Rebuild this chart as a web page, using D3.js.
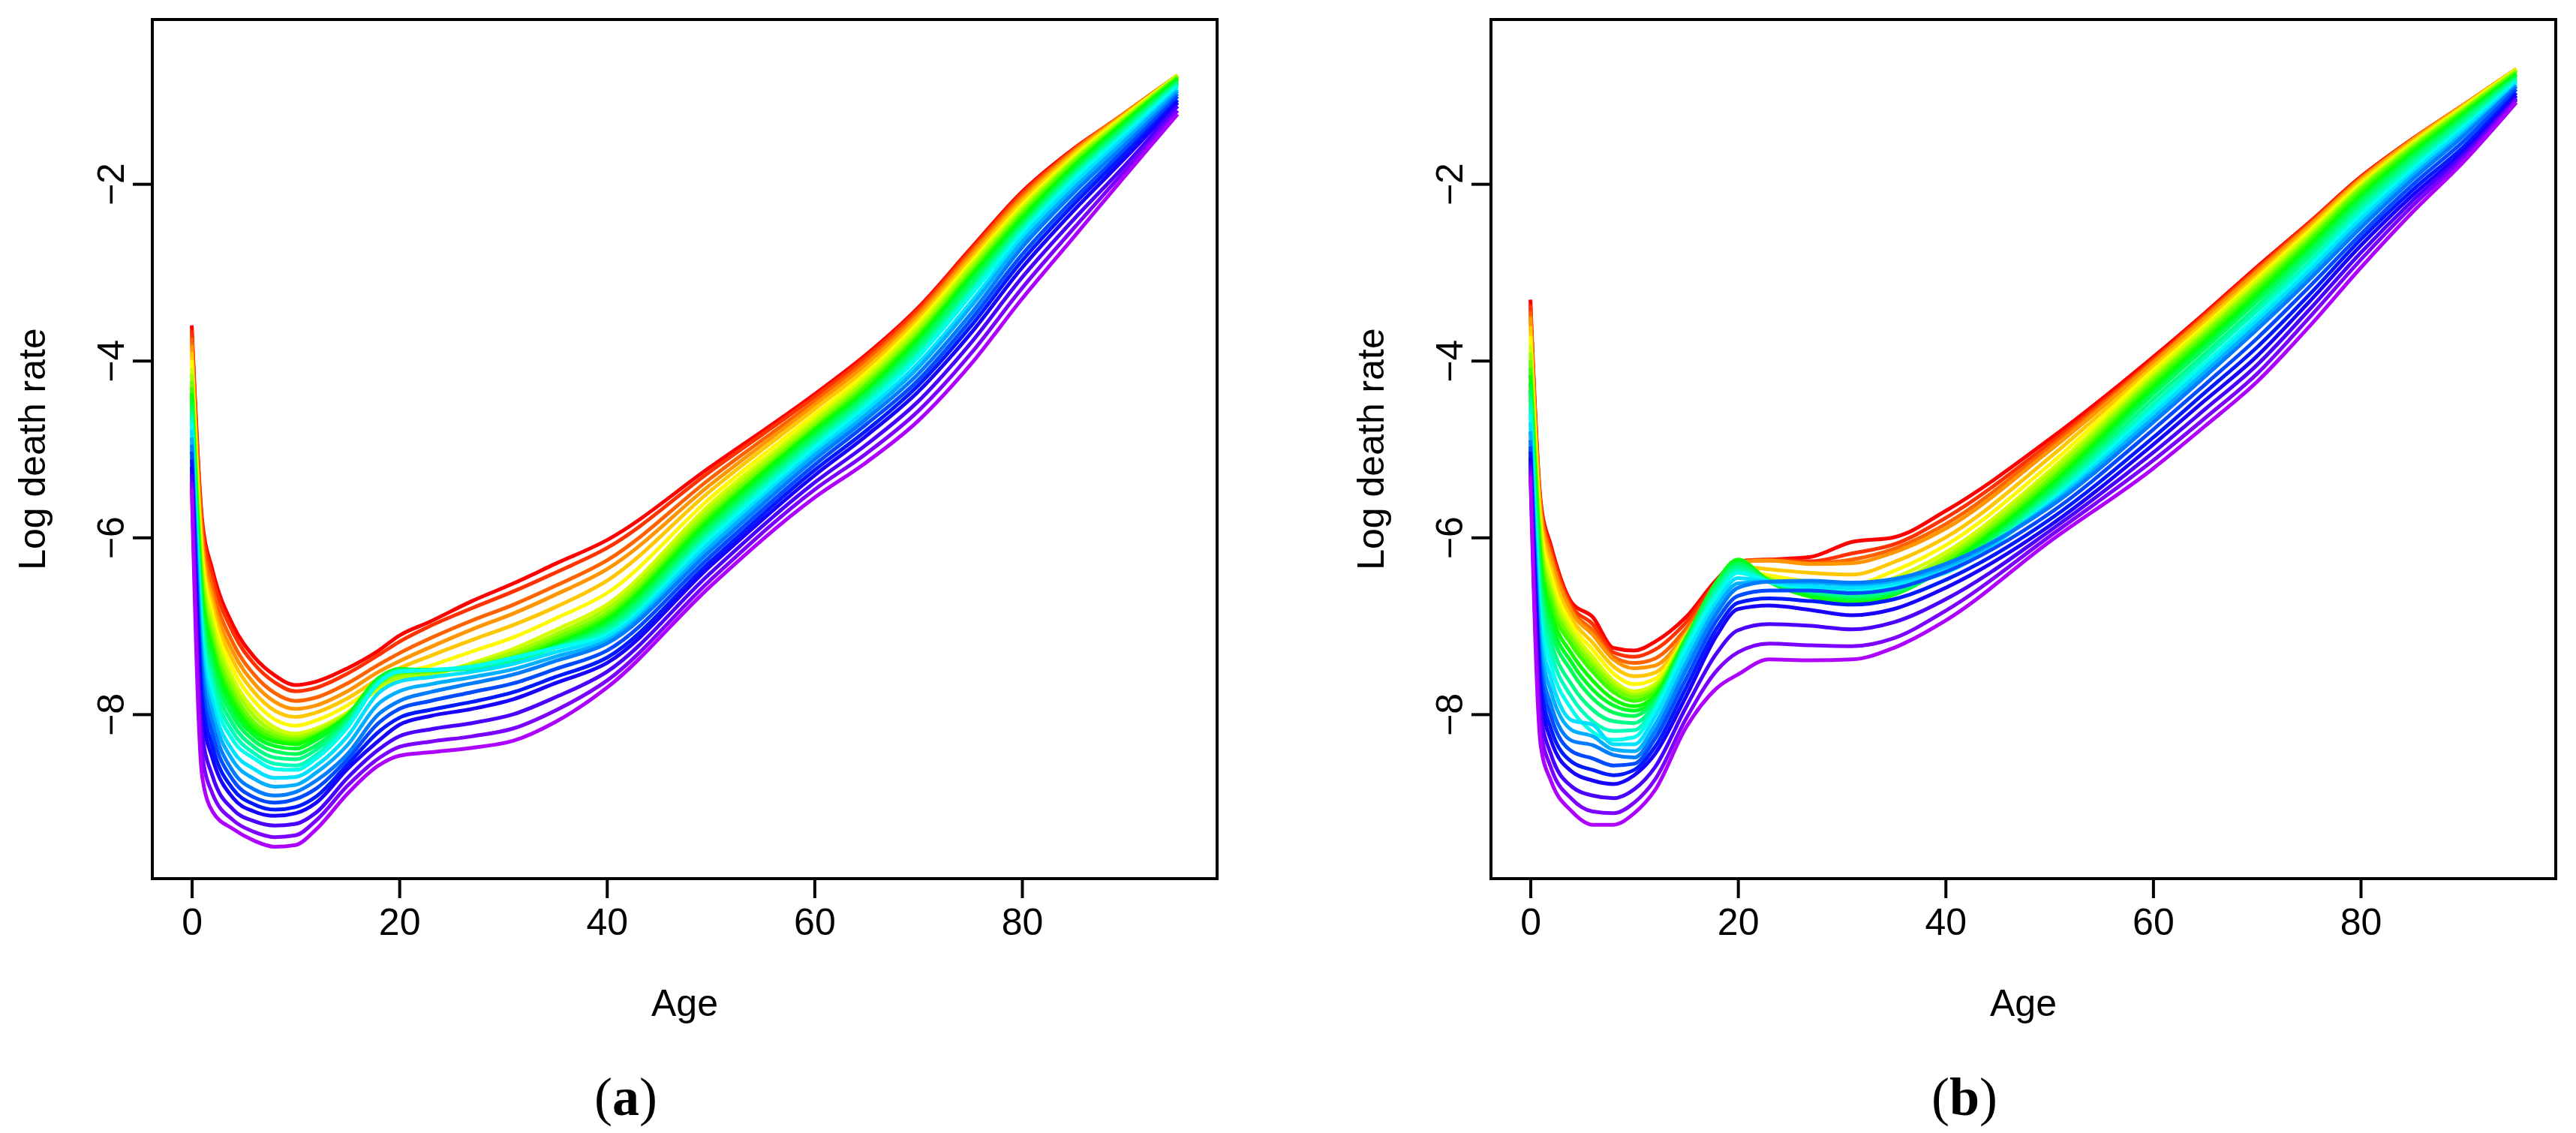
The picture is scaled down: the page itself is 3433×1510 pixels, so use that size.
<!DOCTYPE html>
<html>
<head>
<meta charset="utf-8">
<script src="https://cdn.jsdelivr.net/npm/d3@7"></script>
<style>
body { margin: 0; background: #fff; }
text { font-family: "Liberation Sans", Arial, sans-serif; }
</style>
</head>
<body>
<script>
var ages = [0, 1, 2, 4, 6, 8, 10, 12, 15, 18, 20, 23, 27, 31, 35, 40, 50, 60, 65, 70, 75, 80, 85, 90, 95];
var xTicks = [0, 20, 40, 60, 80];
var yTicks = [-8, -6, -4, -2];
var yRange = [-9.5, -0.5];
var captions = ["a", "b"];

// panel (a): one row per year, oldest (red) first
var panelA = [
  [-3.60,-5.80,-6.37,-7.00,-7.35,-7.56,-7.67,-7.63,-7.48,-7.28,-7.11,-6.95,-6.72,-6.52,-6.30,-6.03,-5.20,-4.38,-3.93,-3.40,-2.74,-2.09,-1.60,-1.20,-0.78],
  [-3.66,-5.86,-6.45,-7.08,-7.43,-7.64,-7.74,-7.70,-7.54,-7.33,-7.18,-7.00,-6.80,-6.61,-6.40,-6.12,-5.25,-4.41,-3.96,-3.42,-2.76,-2.11,-1.61,-1.19,-0.77],
  [-3.74,-5.96,-6.57,-7.20,-7.55,-7.76,-7.85,-7.81,-7.65,-7.44,-7.31,-7.14,-6.94,-6.76,-6.55,-6.26,-5.33,-4.46,-4.00,-3.46,-2.79,-2.14,-1.62,-1.19,-0.77],
  [-3.82,-6.05,-6.68,-7.30,-7.65,-7.86,-7.94,-7.90,-7.74,-7.52,-7.40,-7.24,-7.04,-6.86,-6.65,-6.36,-5.40,-4.50,-4.04,-3.49,-2.82,-2.17,-1.64,-1.20,-0.77],
  [-3.90,-6.14,-6.77,-7.40,-7.75,-7.96,-8.03,-7.98,-7.82,-7.60,-7.48,-7.34,-7.16,-6.99,-6.79,-6.49,-5.47,-4.55,-4.09,-3.53,-2.86,-2.20,-1.66,-1.21,-0.77],
  [-3.99,-6.23,-6.86,-7.50,-7.85,-8.06,-8.13,-8.07,-7.90,-7.66,-7.55,-7.45,-7.29,-7.13,-6.92,-6.63,-5.55,-4.61,-4.14,-3.57,-2.90,-2.24,-1.69,-1.22,-0.77],
  [-4.08,-6.32,-6.95,-7.60,-7.95,-8.15,-8.22,-8.16,-7.98,-7.72,-7.62,-7.56,-7.42,-7.26,-7.05,-6.76,-5.62,-4.66,-4.18,-3.61,-2.93,-2.27,-1.71,-1.23,-0.77],
  [-4.15,-6.41,-7.03,-7.67,-8.02,-8.20,-8.26,-8.19,-8.00,-7.68,-7.58,-7.54,-7.44,-7.30,-7.10,-6.81,-5.67,-4.70,-4.22,-3.65,-2.96,-2.30,-1.73,-1.25,-0.78],
  [-4.23,-6.50,-7.12,-7.75,-8.09,-8.24,-8.29,-8.22,-8.01,-7.65,-7.54,-7.52,-7.46,-7.34,-7.14,-6.86,-5.72,-4.74,-4.26,-3.69,-3.00,-2.33,-1.75,-1.27,-0.79],
  [-4.30,-6.58,-7.20,-7.82,-8.14,-8.28,-8.32,-8.24,-8.02,-7.62,-7.50,-7.50,-7.47,-7.37,-7.18,-6.90,-5.76,-4.77,-4.29,-3.72,-3.03,-2.36,-1.78,-1.28,-0.80],
  [-4.37,-6.66,-7.27,-7.88,-8.19,-8.31,-8.34,-8.25,-8.01,-7.59,-7.49,-7.50,-7.48,-7.39,-7.21,-6.93,-5.79,-4.79,-4.33,-3.75,-3.06,-2.39,-1.80,-1.29,-0.81],
  [-4.43,-6.75,-7.35,-7.95,-8.24,-8.36,-8.39,-8.29,-8.03,-7.60,-7.49,-7.50,-7.48,-7.40,-7.23,-6.96,-5.83,-4.82,-4.36,-3.79,-3.09,-2.43,-1.83,-1.32,-0.83],
  [-4.50,-6.83,-7.45,-8.03,-8.30,-8.42,-8.45,-8.35,-8.06,-7.62,-7.50,-7.50,-7.48,-7.40,-7.24,-7.00,-5.87,-4.86,-4.39,-3.82,-3.13,-2.46,-1.86,-1.34,-0.85],
  [-4.57,-6.92,-7.55,-8.12,-8.37,-8.49,-8.51,-8.40,-8.09,-7.63,-7.51,-7.50,-7.47,-7.39,-7.25,-7.03,-5.92,-4.90,-4.43,-3.87,-3.19,-2.49,-1.89,-1.37,-0.86],
  [-4.63,-7.01,-7.65,-8.21,-8.44,-8.56,-8.58,-8.46,-8.12,-7.64,-7.51,-7.50,-7.47,-7.37,-7.25,-7.07,-5.96,-4.94,-4.47,-3.92,-3.23,-2.53,-1.92,-1.40,-0.88],
  [-4.70,-7.10,-7.75,-8.30,-8.50,-8.62,-8.63,-8.50,-8.15,-7.65,-7.52,-7.50,-7.46,-7.36,-7.25,-7.10,-6.00,-4.98,-4.51,-3.96,-3.27,-2.56,-1.95,-1.42,-0.90],
  [-4.78,-7.23,-7.87,-8.42,-8.62,-8.72,-8.71,-8.58,-8.25,-7.76,-7.63,-7.58,-7.52,-7.43,-7.30,-7.13,-6.05,-5.03,-4.56,-4.03,-3.35,-2.61,-2.00,-1.46,-0.93],
  [-4.87,-7.37,-7.98,-8.53,-8.73,-8.82,-8.80,-8.66,-8.35,-7.88,-7.74,-7.66,-7.58,-7.49,-7.35,-7.17,-6.10,-5.07,-4.61,-4.08,-3.40,-2.66,-2.05,-1.50,-0.95],
  [-4.95,-7.50,-8.10,-8.65,-8.85,-8.92,-8.88,-8.75,-8.45,-8.00,-7.85,-7.75,-7.65,-7.55,-7.40,-7.20,-6.15,-5.12,-4.66,-4.15,-3.48,-2.72,-2.10,-1.55,-0.98],
  [-5.03,-7.66,-8.23,-8.75,-8.94,-9.00,-8.96,-8.84,-8.51,-8.10,-7.94,-7.85,-7.75,-7.65,-7.49,-7.28,-6.21,-5.18,-4.72,-4.22,-3.55,-2.80,-2.17,-1.60,-1.01],
  [-5.12,-7.83,-8.37,-8.85,-9.02,-9.08,-9.05,-8.93,-8.57,-8.20,-8.04,-7.95,-7.86,-7.75,-7.58,-7.36,-6.27,-5.24,-4.79,-4.28,-3.62,-2.87,-2.23,-1.65,-1.05],
  [-5.20,-8.00,-8.50,-8.95,-9.10,-9.15,-9.12,-9.00,-8.62,-8.30,-8.12,-8.02,-7.94,-7.83,-7.65,-7.42,-6.32,-5.30,-4.85,-4.35,-3.70,-2.95,-2.30,-1.70,-1.08],
  [-5.28,-8.22,-8.70,-9.08,-9.21,-9.26,-9.24,-9.11,-8.72,-8.40,-8.25,-8.17,-8.10,-8.00,-7.81,-7.52,-6.40,-5.38,-4.95,-4.46,-3.81,-3.06,-2.40,-1.78,-1.12],
  [-5.37,-8.45,-8.90,-9.20,-9.33,-9.39,-9.37,-9.20,-8.81,-8.50,-8.37,-8.31,-8.25,-8.16,-7.96,-7.62,-6.48,-5.46,-5.05,-4.57,-3.93,-3.18,-2.50,-1.84,-1.17],
  [-5.45,-8.70,-9.10,-9.30,-9.43,-9.50,-9.48,-9.30,-8.90,-8.58,-8.47,-8.43,-8.38,-8.30,-8.09,-7.70,-6.55,-5.55,-5.15,-4.68,-4.05,-3.30,-2.60,-1.90,-1.21]
];

// panel (b)
var panelB = [
  [-3.31,-5.60,-6.10,-6.74,-6.90,-7.25,-7.28,-7.18,-6.90,-6.47,-6.27,-6.25,-6.22,-6.05,-6.00,-5.70,-4.89,-3.96,-3.46,-2.94,-2.44,-1.92,-1.49,-1.10,-0.71],
  [-3.37,-5.64,-6.15,-6.78,-6.98,-7.30,-7.35,-7.27,-6.96,-6.50,-6.27,-6.25,-6.27,-6.18,-6.08,-5.78,-4.94,-3.99,-3.48,-2.96,-2.45,-1.93,-1.49,-1.10,-0.70],
  [-3.44,-5.68,-6.20,-6.82,-7.05,-7.35,-7.42,-7.37,-7.03,-6.53,-6.28,-6.26,-6.29,-6.25,-6.13,-5.85,-4.98,-4.01,-3.50,-2.98,-2.47,-1.94,-1.50,-1.10,-0.70],
  [-3.50,-5.72,-6.25,-6.85,-7.10,-7.38,-7.48,-7.45,-7.08,-6.55,-6.28,-6.26,-6.30,-6.29,-6.17,-5.90,-5.02,-4.03,-3.52,-3.00,-2.48,-1.95,-1.50,-1.10,-0.70],
  [-3.61,-5.80,-6.34,-6.92,-7.19,-7.46,-7.57,-7.53,-7.10,-6.57,-6.33,-6.36,-6.40,-6.42,-6.28,-6.00,-5.10,-4.07,-3.56,-3.04,-2.51,-1.97,-1.52,-1.11,-0.70],
  [-3.72,-5.89,-6.43,-6.99,-7.27,-7.54,-7.66,-7.60,-7.12,-6.58,-6.37,-6.43,-6.50,-6.53,-6.38,-6.09,-5.18,-4.11,-3.60,-3.07,-2.54,-2.00,-1.54,-1.12,-0.70],
  [-3.82,-5.97,-6.52,-7.05,-7.35,-7.62,-7.74,-7.66,-7.13,-6.56,-6.35,-6.46,-6.56,-6.60,-6.46,-6.17,-5.25,-4.15,-3.63,-3.10,-2.57,-2.02,-1.55,-1.13,-0.71],
  [-3.91,-6.05,-6.60,-7.11,-7.41,-7.66,-7.78,-7.69,-7.13,-6.54,-6.32,-6.47,-6.59,-6.64,-6.52,-6.22,-5.29,-4.19,-3.67,-3.14,-2.60,-2.04,-1.57,-1.15,-0.72],
  [-3.99,-6.12,-6.67,-7.16,-7.46,-7.70,-7.81,-7.72,-7.14,-6.52,-6.29,-6.48,-6.63,-6.68,-6.58,-6.26,-5.34,-4.22,-3.70,-3.17,-2.63,-2.06,-1.59,-1.16,-0.73],
  [-4.08,-6.20,-6.75,-7.22,-7.52,-7.75,-7.85,-7.75,-7.14,-6.50,-6.26,-6.49,-6.66,-6.72,-6.63,-6.30,-5.38,-4.26,-3.74,-3.21,-2.66,-2.09,-1.61,-1.18,-0.75],
  [-4.16,-6.30,-6.85,-7.32,-7.62,-7.83,-7.91,-7.79,-7.15,-6.49,-6.25,-6.50,-6.67,-6.73,-6.65,-6.32,-5.42,-4.30,-3.78,-3.25,-2.70,-2.13,-1.64,-1.20,-0.76],
  [-4.25,-6.40,-6.95,-7.42,-7.72,-7.90,-7.96,-7.82,-7.16,-6.50,-6.27,-6.50,-6.64,-6.70,-6.64,-6.34,-5.45,-4.34,-3.82,-3.29,-2.74,-2.16,-1.67,-1.22,-0.77],
  [-4.33,-6.50,-7.05,-7.52,-7.82,-7.98,-8.02,-7.85,-7.18,-6.52,-6.30,-6.50,-6.62,-6.68,-6.62,-6.36,-5.49,-4.38,-3.86,-3.33,-2.78,-2.20,-1.70,-1.25,-0.79],
  [-4.42,-6.63,-7.18,-7.67,-7.95,-8.08,-8.10,-7.89,-7.20,-6.56,-6.33,-6.50,-6.61,-6.66,-6.60,-6.37,-5.53,-4.44,-3.92,-3.39,-2.83,-2.25,-1.74,-1.28,-0.81],
  [-4.51,-6.77,-7.31,-7.81,-8.08,-8.19,-8.18,-7.92,-7.23,-6.61,-6.37,-6.50,-6.59,-6.63,-6.57,-6.39,-5.56,-4.50,-3.97,-3.44,-2.89,-2.30,-1.79,-1.32,-0.83],
  [-4.60,-6.90,-7.45,-7.95,-8.20,-8.29,-8.26,-7.95,-7.25,-6.65,-6.40,-6.50,-6.58,-6.61,-6.54,-6.40,-5.60,-4.55,-4.03,-3.50,-2.94,-2.35,-1.83,-1.35,-0.85],
  [-4.70,-7.07,-7.60,-8.07,-8.12,-8.34,-8.34,-8.03,-7.33,-6.72,-6.46,-6.50,-6.55,-6.57,-6.52,-6.37,-5.62,-4.60,-4.08,-3.55,-2.99,-2.40,-1.87,-1.38,-0.87],
  [-4.80,-7.23,-7.75,-8.18,-8.25,-8.40,-8.42,-8.12,-7.42,-6.78,-6.52,-6.50,-6.51,-6.53,-6.49,-6.33,-5.64,-4.65,-4.13,-3.60,-3.04,-2.45,-1.91,-1.42,-0.89],
  [-4.90,-7.40,-7.90,-8.30,-8.35,-8.46,-8.49,-8.20,-7.50,-6.85,-6.57,-6.50,-6.49,-6.51,-6.47,-6.30,-5.66,-4.70,-4.18,-3.65,-3.09,-2.50,-1.95,-1.45,-0.90],
  [-4.97,-7.53,-8.03,-8.42,-8.50,-8.58,-8.56,-8.28,-7.60,-6.93,-6.66,-6.60,-6.60,-6.63,-6.58,-6.39,-5.73,-4.78,-4.27,-3.75,-3.17,-2.57,-2.01,-1.51,-0.93],
  [-5.03,-7.67,-8.17,-8.54,-8.63,-8.69,-8.63,-8.37,-7.70,-7.02,-6.74,-6.69,-6.72,-6.76,-6.70,-6.48,-5.80,-4.87,-4.36,-3.85,-3.26,-2.63,-2.07,-1.57,-0.97],
  [-5.10,-7.80,-8.30,-8.65,-8.75,-8.79,-8.69,-8.45,-7.80,-7.10,-6.81,-6.77,-6.82,-6.88,-6.81,-6.57,-5.87,-4.95,-4.45,-3.95,-3.34,-2.70,-2.13,-1.62,-1.00],
  [-5.17,-8.00,-8.46,-8.82,-8.92,-8.95,-8.85,-8.60,-7.92,-7.30,-7.05,-6.98,-7.00,-7.04,-6.96,-6.70,-5.93,-5.04,-4.55,-4.05,-3.43,-2.78,-2.19,-1.66,-1.03],
  [-5.24,-8.18,-8.61,-8.96,-9.10,-9.12,-9.00,-8.74,-8.05,-7.50,-7.30,-7.20,-7.22,-7.23,-7.14,-6.83,-5.99,-5.13,-4.65,-4.15,-3.52,-2.86,-2.25,-1.70,-1.05],
  [-5.30,-8.36,-8.76,-9.10,-9.25,-9.25,-9.12,-8.86,-8.15,-7.70,-7.55,-7.38,-7.39,-7.38,-7.25,-6.94,-6.05,-5.22,-4.74,-4.24,-3.62,-2.95,-2.32,-1.74,-1.08]
];

var width = 3433, height = 1510;
var box = {left: 203, right: 1622, top: 26, bottom: 1171};
var panelShift = 1784;

var svg = d3.select("body").append("svg")
  .attr("width", width).attr("height", height);

// R style 4% axis extension
function padded(lo, hi) {
  var d = (hi - lo) * 0.04;
  return [lo - d, hi + d];
}

function drawPanel(rows, caption, k) {
  var g = svg.append("g").attr("transform", "translate(" + (k * panelShift) + ",0)");

  var x = d3.scaleLinear().domain(padded(d3.min(ages), d3.max(ages))).range([box.left, box.right]);
  var y = d3.scaleLinear().domain(padded(yRange[0], yRange[1])).range([box.bottom, box.top]);

  var n = rows.length;
  var colour = function (i) { return d3.hsl(i / (n - 1) * 0.78 * 360, 1, 0.5).toString(); };

  var line = d3.line()
    .x(function (d, i) { return x(ages[i]); })
    .y(function (d) { return y(d); })
    .curve(d3.curveMonotoneX);

  g.selectAll(".curve").data(rows).enter().append("path")
    .attr("class", "curve")
    .attr("d", line)
    .attr("fill", "none")
    .attr("stroke", function (d, i) { return colour(i); })
    .attr("stroke-width", 5)
    .attr("stroke-linejoin", "round");

  g.append("rect")
    .attr("x", box.left).attr("y", box.top)
    .attr("width", box.right - box.left).attr("height", box.bottom - box.top)
    .attr("fill", "none").attr("stroke", "#000").attr("stroke-width", 4);

  var xAxis = g.append("g").attr("transform", "translate(0," + box.bottom + ")")
    .call(d3.axisBottom(x).tickValues(xTicks).tickSize(26).tickSizeOuter(0));
  var yAxis = g.append("g").attr("transform", "translate(" + box.left + ",0)")
    .call(d3.axisLeft(y).tickValues(yTicks).tickSize(26).tickSizeOuter(0)
      .tickFormat(function (d) { return String(d).replace("-", "\u2212"); }));

  [xAxis, yAxis].forEach(function (a) {
    a.select(".domain").remove();
    a.selectAll("line").attr("stroke", "#000").attr("stroke-width", 4);
    a.selectAll("text").attr("fill", "#000").style("font-size", "50px")
      .style("font-family", "'Liberation Sans', Arial, sans-serif");
  });
  xAxis.selectAll("text").attr("y", 75).attr("dy", null);
  yAxis.selectAll("text").attr("x", null).attr("dy", null)
    .attr("text-anchor", "middle")
    .attr("transform", "translate(-38,0) rotate(-90)");

  g.append("text")
    .attr("x", (box.left + box.right) / 2).attr("y", 1354)
    .attr("text-anchor", "middle").style("font-size", "50px")
    .text("Age");

  g.append("text")
    .attr("transform", "translate(60," + ((box.top + box.bottom) / 2) + ") rotate(-90)")
    .attr("text-anchor", "middle").style("font-size", "50px")
    .text("Log death rate");

  var cap = g.append("text")
    .attr("x", 834).attr("y", 1486)
    .attr("text-anchor", "middle")
    .style("font-family", "'Liberation Serif', 'DejaVu Serif', serif")
    .style("font-size", "72px");
  cap.append("tspan").text("(");
  cap.append("tspan").attr("font-weight", "bold").text(caption);
  cap.append("tspan").text(")");
}

drawPanel(panelA, captions[0], 0);
drawPanel(panelB, captions[1], 1);
</script>
</body>
</html>
